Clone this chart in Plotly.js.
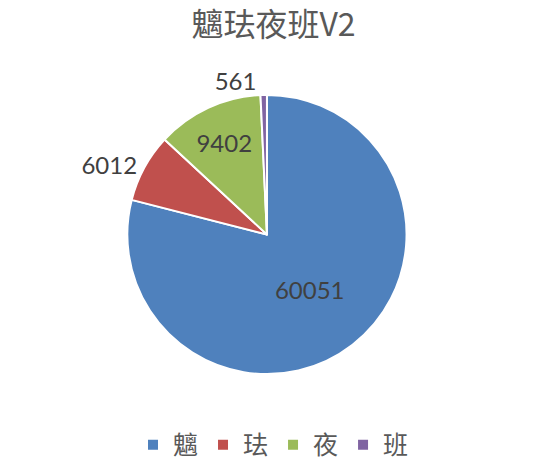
<!DOCTYPE html>
<html>
<head>
<meta charset="utf-8">
<script src="https://cdn.plot.ly/plotly-3.0.1.min.js"></script>
<style>
  html, body { margin: 0; padding: 0; background: #fff; }
  #chart { width: 547px; height: 468px; }
</style>
</head>
<body>
<div id="chart"></div>
<script>
// Slice names and values
const labels = ["魑", "珐", "夜", "班"];
const values = [60051, 6012, 9402, 561];
const colors = ["#4F81BD", "#C0504D", "#9BBB59", "#8064A2"];
const positions = ["inside", "outside", "inside", "outside"];

const fontFam = "Lato, 'Noto Sans CJK SC', sans-serif";

let data = [{
  type: "pie",
  labels: labels,
  values: values,
  sort: false,
  direction: "clockwise",
  rotation: 0,
  texttemplate: "%{value:.0f}",
  textposition: positions,
  insidetextorientation: "horizontal",
  textfont: { family: fontFam, size: 24, color: "#404040" },
  outsidetextfont: { family: fontFam, size: 24, color: "#404040" },
  insidetextfont: { family: fontFam, size: 24, color: "#404040" },
  marker: {
    colors: colors,
    line: { color: "#ffffff", width: 2 }
  },
  hoverinfo: "label+value",
  domain: { x: [0.225, 0.751], y: [0.176, 0.791] }
}];

let layout = {
  width: 547,
  height: 468,
  margin: { l: 0, r: 0, t: 0, b: 0 },
  paper_bgcolor: "#ffffff",
  showlegend: true,
  title: {
    text: "魑珐夜班V2",
    font: { family: "'Noto Sans CJK SC', sans-serif", size: 32, color: "#595959" },
    x: 0.5,
    xanchor: "center",
    y: 0.948,
    yanchor: "middle"
  },
  legend: {
    orientation: "h",
    x: 0.5,
    xanchor: "center",
    y: 0.02,
    yanchor: "middle",
    font: { family: "'Noto Sans CJK SC', sans-serif", size: 25, color: "#595959" },
    itemwidth: 30
  }
};

Plotly.newPlot("chart", data, layout, { displayModeBar: false, staticPlot: true });
</script>
</body>
</html>
